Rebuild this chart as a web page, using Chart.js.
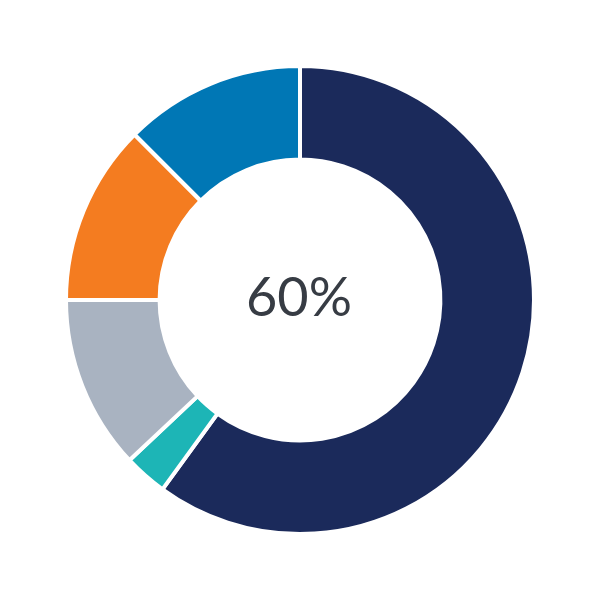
<!DOCTYPE html>
<html>
<head>
<meta charset="utf-8">
<script src="https://cdn.jsdelivr.net/npm/chart.js@4"></script>
<style>
html,body{margin:0;padding:0;background:#fff;}
#wrap{width:600px;height:600px;position:relative;}
</style>
</head>
<body>
<div id="wrap"><canvas id="c" width="600" height="600"></canvas></div>
<script>
const categories = ["A", "B", "C", "D", "E"];
const values = [60, 3, 12, 12.5, 12.5];
const colors = ["#1b2a5b", "#1db5b6", "#a9b3c1", "#f47c20", "#0077b5"];
const centerLabel = "60%";

const centerText = {
  id: 'centerText',
  afterDraw(chart) {
    const ctx = chart.ctx;
    const meta = chart.getDatasetMeta(0);
    const arc = meta.data[0];
    ctx.save();
    ctx.fillStyle = '#373c44';
    ctx.font = '400 54px Lato';
    ctx.textAlign = 'center';
    ctx.textBaseline = 'middle';
    ctx.fillText(centerLabel, arc.x - 1, arc.y - 1);
    ctx.restore();
  }
};

new Chart(document.getElementById('c'), {
  type: 'doughnut',
  data: {
    labels: categories,
    datasets: [{
      data: values,
      backgroundColor: colors,
      borderColor: '#ffffff',
      borderWidth: 4,
      hoverOffset: 0
    }]
  },
  options: {
    responsive: false,
    animation: false,
    cutout: '60%',
    layout: { padding: 64 },
    plugins: {
      legend: { display: false },
      tooltip: { enabled: false }
    }
  },
  plugins: [centerText]
});
</script>
</body>
</html>
